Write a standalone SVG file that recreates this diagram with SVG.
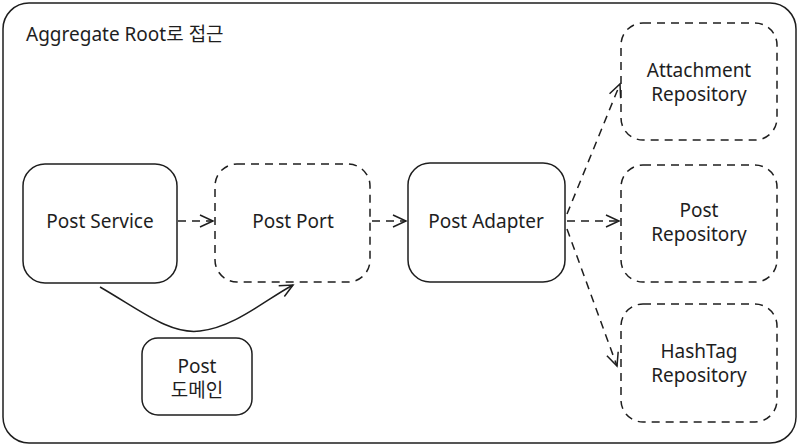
<svg xmlns="http://www.w3.org/2000/svg" width="800" height="447" viewBox="0 0 800 447">
<style>
.box{fill:#fff;stroke:#1e1e1e;stroke-width:1.5}
.dash{fill:#fff;stroke:#1e1e1e;stroke-width:1.5;stroke-dasharray:8 6}
.lbl{font-family:"Noto Sans","Noto Sans CJK KR",sans-serif;font-size:19px;fill:#1e1e1e;text-anchor:middle}
.con{fill:none;stroke:#1e1e1e;stroke-width:1.5}
.cd{stroke-dasharray:8 6}
</style>
<defs>
<marker id="ah" markerWidth="16" markerHeight="14" refX="14" refY="7" orient="auto" markerUnits="userSpaceOnUse">
<path d="M1,1 L14,7 L1,13" fill="none" stroke="#1e1e1e" stroke-width="1.5"/>
</marker>
</defs>
<rect x="0" y="0" width="800" height="447" fill="#fff"/>
<g id="frame">
<rect x="3" y="3" width="793" height="440" rx="26" fill="#fff" stroke="#1e1e1e" stroke-width="1.5"/>
<text x="26" y="41" font-family="'Noto Sans','Noto Sans CJK KR',sans-serif" font-size="19" fill="#1e1e1e">Aggregate Root로 접근</text>
</g>
<g id="connectors">
<line class="con cd" x1="178" y1="221" x2="213" y2="221" marker-end="url(#ah)"/>
<line class="con cd" x1="372" y1="221" x2="406" y2="221" marker-end="url(#ah)"/>
<line class="con cd" x1="567" y1="221" x2="619" y2="221" marker-end="url(#ah)"/>
<line class="con cd" x1="567" y1="214" x2="620" y2="84" marker-end="url(#ah)"/>
<line class="con cd" x1="567" y1="229" x2="617" y2="366" marker-end="url(#ah)"/>
<path class="con" d="M100,287 C140,310 170,335 200,331 C235,327 265,300 293,285" marker-end="url(#ah)"/>
</g>
<g id="post-service">
<rect class="box" x="23" y="164" width="154" height="119" rx="22"/>
<text class="lbl" x="100" y="228">Post Service</text>
</g>
<g id="post-port">
<rect class="dash" x="215" y="164" width="155" height="118" rx="22"/>
<text class="lbl" x="293" y="228">Post Port</text>
</g>
<g id="post-adapter">
<rect class="box" x="408" y="163" width="157" height="119" rx="22"/>
<text class="lbl" x="486" y="228">Post Adapter</text>
</g>
<g id="attachment-repository">
<rect class="dash" x="621" y="23" width="156" height="117" rx="22"/>
<text class="lbl" x="699" y="77">Attachment</text>
<text class="lbl" x="699" y="101">Repository</text>
</g>
<g id="post-repository">
<rect class="dash" x="621" y="165" width="156" height="117" rx="22"/>
<text class="lbl" x="699" y="217">Post</text>
<text class="lbl" x="699" y="241">Repository</text>
</g>
<g id="hashtag-repository">
<rect class="dash" x="621" y="304" width="156" height="118" rx="22"/>
<text class="lbl" x="699" y="358">HashTag</text>
<text class="lbl" x="699" y="382">Repository</text>
</g>
<g id="post-domain">
<rect class="box" x="142" y="338" width="110" height="77" rx="16"/>
<text class="lbl" x="197" y="373">Post</text>
<text class="lbl" x="197" y="397">도메인</text>
</g>
</svg>
